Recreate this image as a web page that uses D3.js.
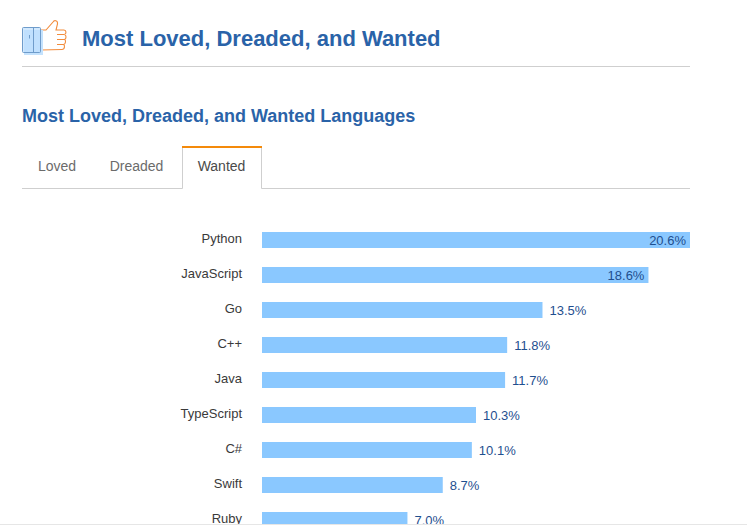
<!DOCTYPE html>
<html>
<head>
<meta charset="utf-8">
<script src="https://cdn.jsdelivr.net/npm/d3@7"></script>
<style>
  html, body { margin: 0; padding: 0; background: #fff; overflow: hidden; }
  svg { display: block; font-family: "Liberation Sans", Arial, sans-serif; }
  .title { font-size: 22px; font-weight: bold; fill: #2a63a8; }
  .subtitle { font-size: 18px; font-weight: bold; fill: #2a63a8; }
  .tab { font-size: 14px; fill: #6b6b6b; }
  .tab.active { fill: #4a4a4a; }
  .rule { stroke: #cfcfcf; stroke-width: 1; fill: none; }
  .cat-label { font-size: 13px; fill: #3a3a3a; }
  .val-label { font-size: 13px; fill: #1f4f8f; }
</style>
</head>
<body>
<svg id="chart" width="747" height="525"></svg>
<script>
const languages = ["Python", "JavaScript", "Go", "C++", "Java", "TypeScript", "C#", "Swift", "Ruby"];
const wanted = [20.6, 18.6, 13.5, 11.8, 11.7, 10.3, 10.1, 8.7, 7.0];
const tabs = ["Loved", "Dreaded", "Wanted"];
const tabCenters = [57, 136.5, 221.5];
const activeTab = "Wanted";

const width = 747;
const height = 525;
const contentLeft = 22;
const contentRight = 690;

const svg = d3.select("#chart");

// heading
const icon = svg.append("g").attr("fill", "none");
icon.append("path")
  .attr("d", "M41 30 L46 30 L53 22 C54 20 58 20 57.5 24 L56 30 L64 30 C66.5 30 66.5 34 64.5 34.5 C66.5 35 66.5 39 64.5 39.5 C66 40 66 44 63.5 44.5 C65 45 65 49.5 62 49.5 L41 50")
  .attr("stroke", "#f28c3c")
  .attr("stroke-width", 1.1);
icon.append("path")
  .attr("d", "M57 34.5 L64.5 34.5 M57 39.5 L64.5 39.5 M57 44.5 L63.5 44.5")
  .attr("stroke", "#f28c3c")
  .attr("stroke-width", 1);
icon.append("rect")
  .attr("x", 24).attr("y", 30).attr("width", 19).attr("height", 25)
  .attr("fill", "#c4e2fd");
icon.append("rect")
  .attr("x", 22.5).attr("y", 27.5).attr("width", 18).attr("height", 25).attr("rx", 1)
  .attr("fill", "#bfe0fd")
  .attr("fill-opacity", 0.7)
  .attr("stroke", "#6f9ccb")
  .attr("stroke-width", 1);
icon.append("path")
  .attr("d", "M33.5 27.5 V52.5 M29.5 35 V38.5")
  .attr("stroke", "#6f9ccb")
  .attr("stroke-width", 1);

svg.append("text").attr("class", "title").attr("x", 82).attr("y", 46)
  .text("Most Loved, Dreaded, and Wanted");
svg.append("line").attr("class", "rule")
  .attr("x1", contentLeft).attr("x2", contentRight).attr("y1", 66.5).attr("y2", 66.5);

svg.append("text").attr("class", "subtitle").attr("x", contentLeft).attr("y", 122)
  .text("Most Loved, Dreaded, and Wanted Languages");

// tab strip
svg.append("path").attr("class", "rule")
  .attr("d", `M${contentLeft} 188.5 H182.5 V148 M261.5 148 V188.5 H${contentRight}`);
svg.append("rect")
  .attr("x", 182).attr("y", 146).attr("width", 80).attr("height", 2)
  .attr("fill", "#f48a0a");
svg.selectAll(".tab")
  .data(tabs)
  .join("text")
  .attr("class", (d) => (d === activeTab ? "tab active" : "tab"))
  .attr("x", (d, i) => tabCenters[i])
  .attr("y", 171)
  .attr("text-anchor", "middle")
  .text((d) => d);

// bars
const xScale = d3.scaleLinear().domain([0, 20.6]).range([262, 690]);
const yScale = d3.scaleBand()
  .domain(languages)
  .range([222.5, 222.5 + 35 * languages.length])
  .paddingInner(19 / 35)
  .paddingOuter(9.5 / 35);

svg.selectAll(".bar")
  .data(languages)
  .join("rect")
  .attr("class", "bar")
  .attr("x", xScale(0))
  .attr("y", (d) => yScale(d))
  .attr("width", (d, i) => xScale(wanted[i]) - xScale(0))
  .attr("height", yScale.bandwidth())
  .attr("fill", "#8ac8ff");

svg.selectAll(".cat-label")
  .data(languages)
  .join("text")
  .attr("class", "cat-label")
  .attr("x", 242)
  .attr("y", (d) => yScale(d) + 11)
  .attr("text-anchor", "end")
  .text((d) => d);

// the two longest bars carry their value inside
svg.selectAll(".val-label")
  .data(languages)
  .join("text")
  .attr("class", "val-label")
  .attr("x", (d, i) => xScale(wanted[i]) + (wanted[i] > 15 ? -4 : 7))
  .attr("y", (d) => yScale(d) + 13)
  .attr("text-anchor", (d, i) => (wanted[i] > 15 ? "end" : "start"))
  .text((d, i) => `${wanted[i].toFixed(1)}%`);

// page edge under the fold
svg.append("rect")
  .attr("x", 0).attr("y", 524).attr("width", width).attr("height", height - 524)
  .attr("fill", "#e6e6e6");
</script>
</body>
</html>
